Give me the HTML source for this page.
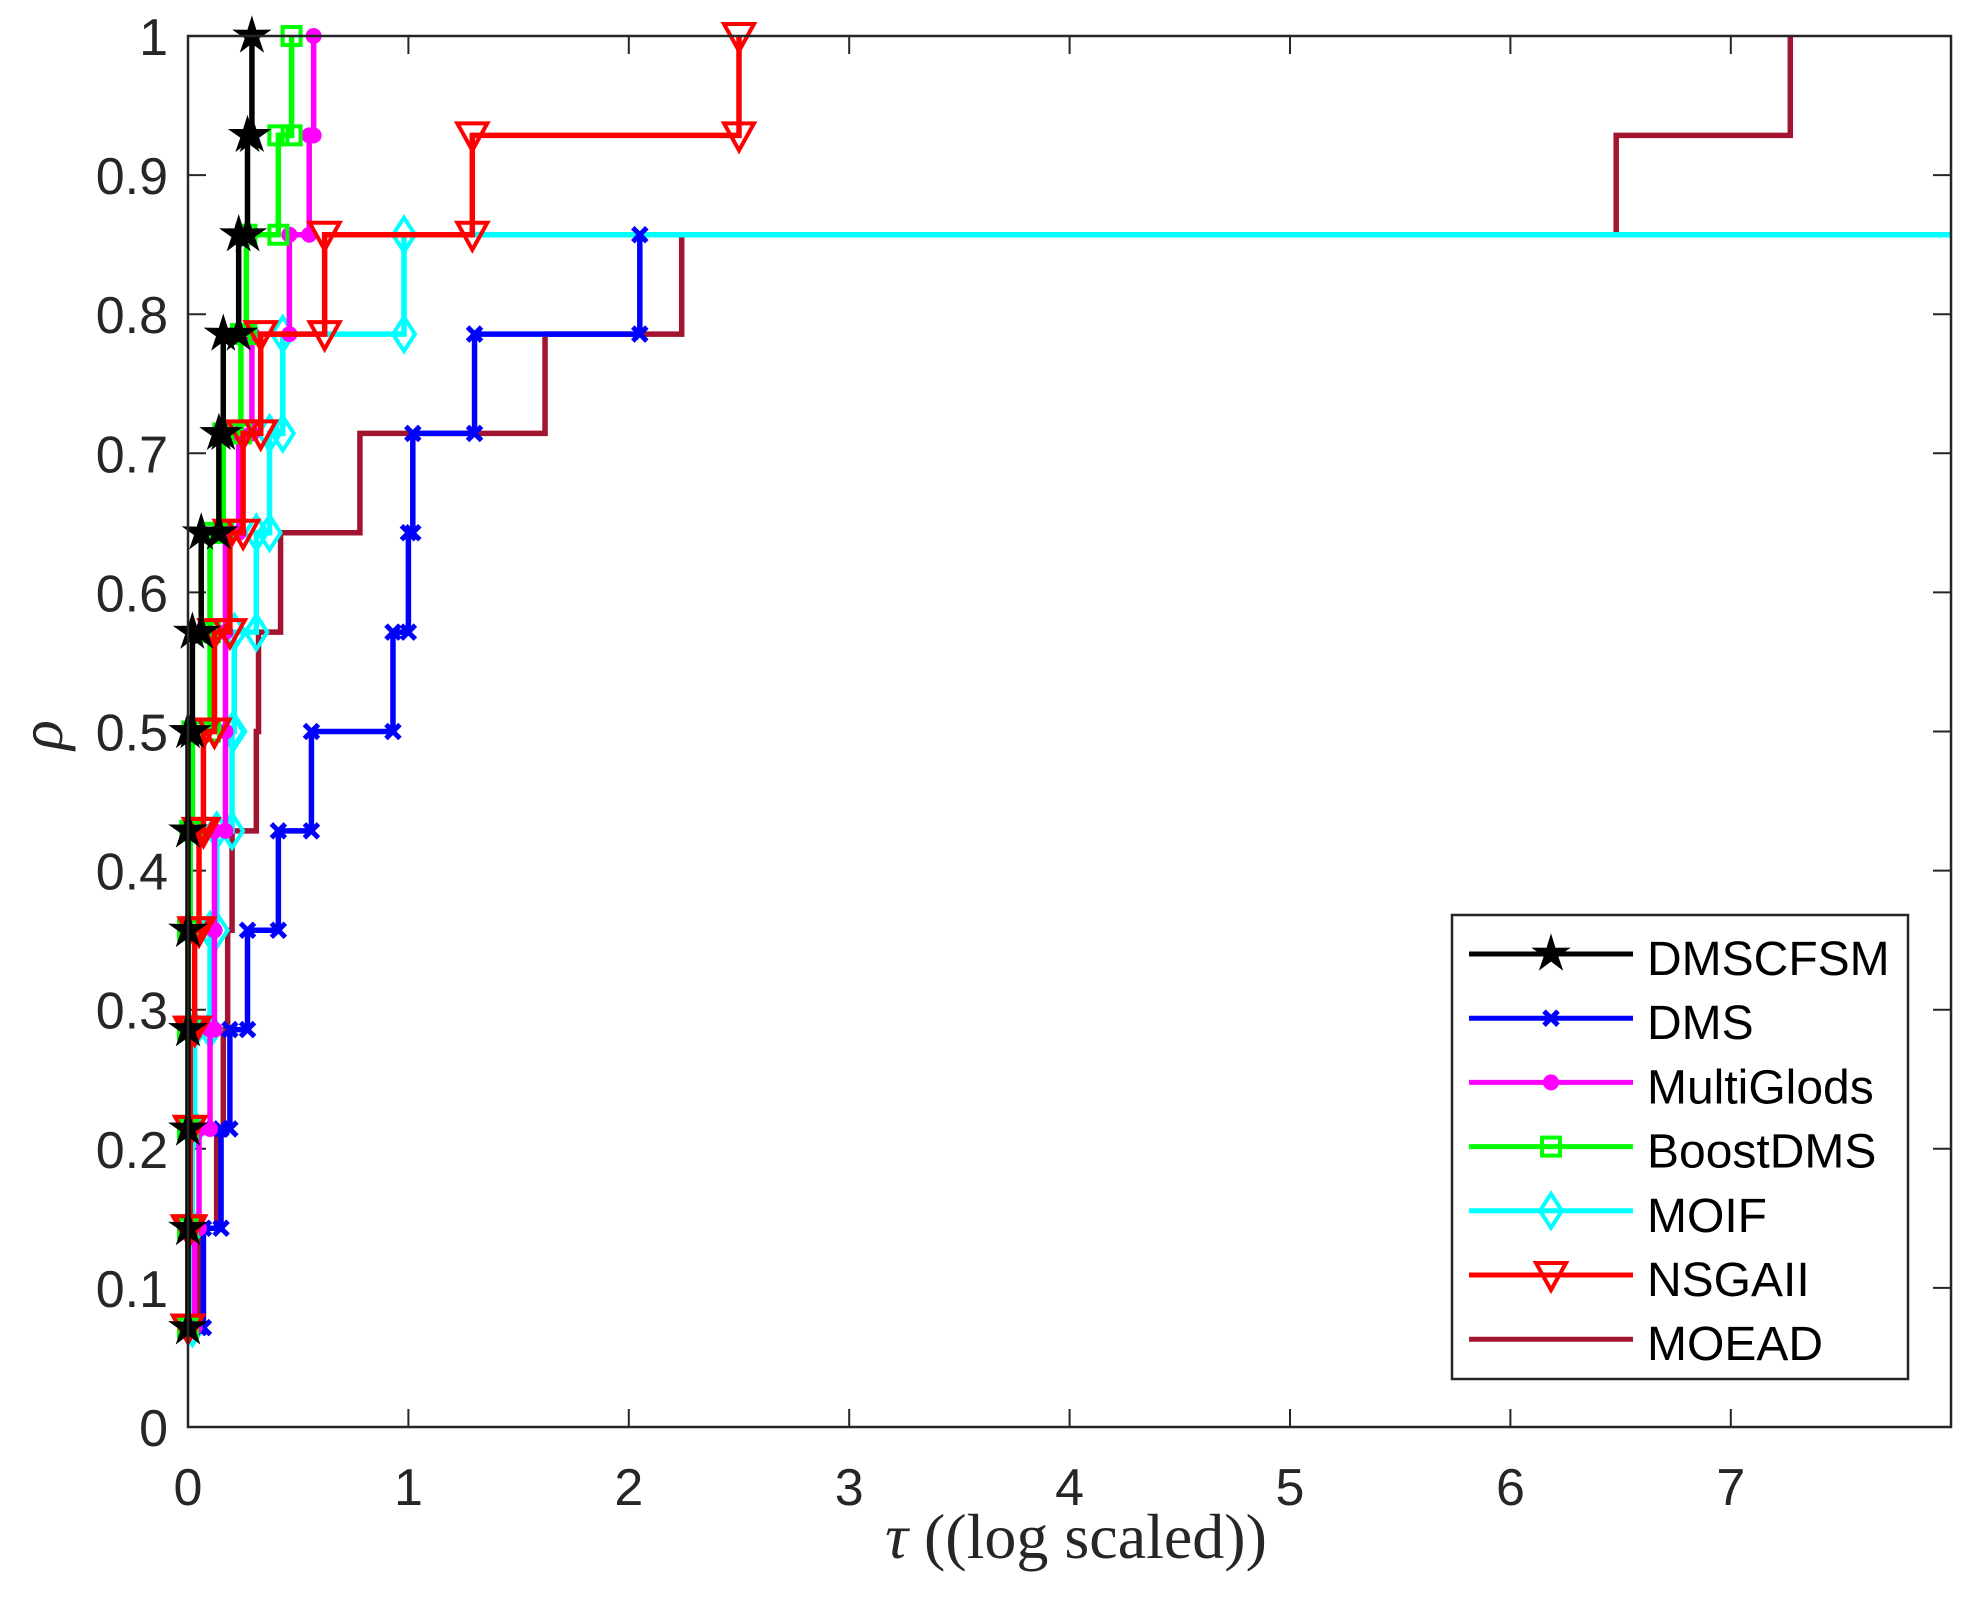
<!DOCTYPE html>
<html><head><meta charset="utf-8"><style>html,body{margin:0;padding:0;background:#fff}</style></head>
<body>
<svg id="s" width="1986" height="1615" viewBox="0 0 1986 1615" xmlns="http://www.w3.org/2000/svg" font-family="Liberation Sans, sans-serif">
<rect x="0" y="0" width="1986" height="1615" fill="#fff"/>
</svg>
<script>
const s=document.getElementById('s');const NS='http://www.w3.org/2000/svg';
function el(t,a,txt){const e=document.createElementNS(NS,t);for(const k in a)e.setAttribute(k,a[k]);if(txt!==undefined)e.textContent=txt;s.appendChild(e);return e;}
const X=x=>188+220.4*x, Y=v=>1427-1391*v;
const L=[1,2,3,4,5,6,7,8,9,10,11,12,13,14].map(k=>k/14);
for(let i=0;i<=7;i++){el('line',{x1:X(i),y1:1427,x2:X(i),y2:1409,stroke:'#262626','stroke-width':2});el('line',{x1:X(i),y1:36,x2:X(i),y2:54,stroke:'#262626','stroke-width':2});
el('text',{x:X(i),y:1505,'font-size':52,'text-anchor':'middle',fill:'#262626'},String(i));}
for(let i=0;i<=10;i++){const v=i/10;el('line',{x1:188,y1:Y(v),x2:206,y2:Y(v),stroke:'#262626','stroke-width':2});el('line',{x1:1951,y1:Y(v),x2:1933,y2:Y(v),stroke:'#262626','stroke-width':2});
el('text',{x:168,y:Y(v)+19,'font-size':52,'text-anchor':'end',fill:'#262626'},i==0?'0':i==10?'1':v.toFixed(1));}
function series(xs,col,mk,endx){let d='';let pts=[];
 for(let i=0;i<xs.length;i++){const x=xs[i];
  if(i==0){d+=`M${X(x)},${Y(L[0])}`;pts.push([X(x),Y(L[0])]);}
  else{d+=` L${X(x)},${Y(L[i-1])} L${X(x)},${Y(L[i])}`;pts.push([X(x),Y(L[i-1])]);pts.push([X(x),Y(L[i])]);}}
 if(endx!==undefined)d+=` L${X(endx)},${Y(L[xs.length-1])}`;
 el('path',{d:d,fill:'none',stroke:col,'stroke-width':5.5});
 if(mk)pts.forEach(p=>marker(p[0],p[1],col,mk));}
function marker(x,y,c,m){
 if(m=='star'){let p=[];for(let i=0;i<10;i++){const r=i%2?7:19,a=-Math.PI/2+i*Math.PI/5;p.push((x+r*Math.cos(a)).toFixed(1)+','+(y+r*Math.sin(a)).toFixed(1));}el('polygon',{points:p.join(' '),fill:c,stroke:c,'stroke-width':1});}
 else if(m=='x'){el('path',{d:`M${x-7},${y-7}L${x+7},${y+7}M${x-7},${y+7}L${x+7},${y-7}`,stroke:c,'stroke-width':5});}
 else if(m=='ast'){el('circle',{cx:x,cy:y,r:8,fill:c});}
 else if(m=='sq'){el('rect',{x:x-9,y:y-9,width:18,height:18,fill:'none',stroke:c,'stroke-width':4});}
 else if(m=='dia'){el('polygon',{points:`${x},${y-17} ${x+11},${y} ${x},${y+17} ${x-11},${y}`,fill:'none',stroke:c,'stroke-width':4});}
 else if(m=='tri'){el('polygon',{points:`${x-15},${y-12} ${x+15},${y-12} ${x},${y+15}`,fill:'none',stroke:c,'stroke-width':4});}
}
series([0.05,0.05,0.13,0.16,0.18,0.2,0.31,0.32,0.42,0.78,1.62,2.24,6.48,7.27],'#a2142f',null);
series([0.02,0.02,0.02,0.03,0.1,0.13,0.2,0.21,0.31,0.37,0.43,0.98],'#00ffff','dia',8);
series([0.05,0.07,0.15,0.19,0.27,0.41,0.56,0.93,1.0,1.02,1.3,2.05],'#0000ff','x');
series([0.02,0.03,0.05,0.1,0.12,0.12,0.17,0.17,0.17,0.23,0.29,0.46,0.55,0.57],'#ff00ff','ast');
series([0,0,0,0,0,0.01,0.02,0.1,0.1,0.16,0.24,0.265,0.41,0.47],'#00ff00','sq');
series([0,0,0.01,0.01,0.03,0.05,0.07,0.12,0.19,0.25,0.33,0.62,1.29,2.5],'#ff0000','tri');
series([0,0,0,0,0,0,0,0.02,0.06,0.14,0.16,0.23,0.27,0.29],'#000000','star');
el('rect',{x:188,y:36,width:1763,height:1391,fill:'none',stroke:'#262626','stroke-width':2.5});
el('rect',{x:1452,y:915,width:456,height:464,fill:'#fff',stroke:'#262626','stroke-width':2.5});
const leg=[['DMSCFSM','#000','star'],['DMS','#0000ff','x'],['MultiGlods','#ff00ff','ast'],['BoostDMS','#00ff00','sq'],['MOIF','#00ffff','dia'],['NSGAII','#ff0000','tri'],['MOEAD','#a2142f',null]];
leg.forEach((l,i)=>{const y=954+i*64.2;el('line',{x1:1469,y1:y,x2:1633,y2:y,stroke:l[1],'stroke-width':5});if(l[2])marker(1551,y,l[1],l[2]);
el('text',{x:1647,y:y+21,'font-size':48,fill:'#000'},l[0]);});
el('text',{x:1076,y:1558,'font-size':64,'text-anchor':'middle','font-family':'Liberation Serif, serif',fill:'#262626'}).innerHTML='<tspan font-style="italic">τ</tspan> ((log scaled))';
el('text',{x:0,y:0,'font-size':62,'font-style':'italic','text-anchor':'middle','font-family':'Liberation Serif, serif',fill:'#262626',transform:'translate(62,735) rotate(-90)'},'ρ');
</script>
</body></html>
